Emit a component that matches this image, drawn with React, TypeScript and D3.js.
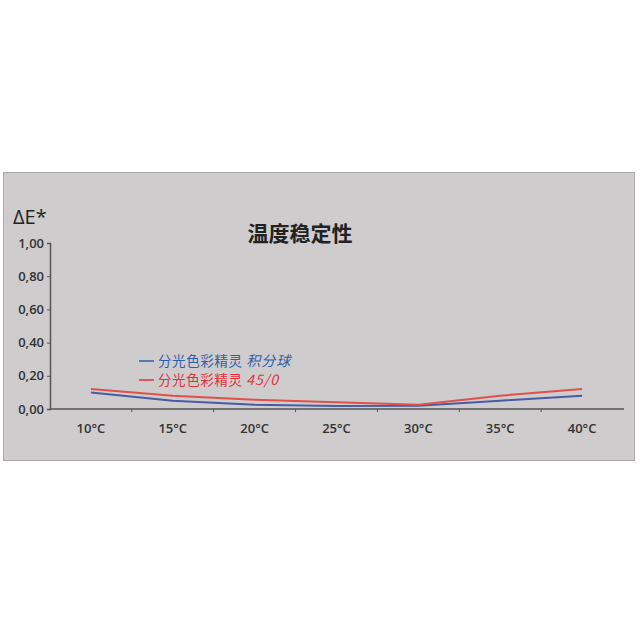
import { useEffect, useRef } from 'react';
import * as d3 from 'd3';

const temps = ['10°C', '15°C', '20°C', '25°C', '30°C', '35°C', '40°C'];
const sphereValues = [0.10, 0.05, 0.025, 0.018, 0.02, 0.05, 0.08];
const geo450Values = [0.12, 0.08, 0.055, 0.04, 0.025, 0.08, 0.12];
const yTicks = [0, 0.2, 0.4, 0.6, 0.8, 1.0];

const seriesNames = ['分光色彩精灵 ', '分光色彩精灵 '];
const seriesSuffix = ['积分球', '45/0'];
const seriesColors = ['#4a5ba6', '#e2504c'];
const textColors = ['#2f5ea8', '#e3303c'];

const App = () => {
    const chartRef = useRef<SVGSVGElement | null>(null);

    useEffect(() => {
        const svg = d3.select(chartRef.current);
        svg.selectAll('*').remove();

        const font = '"Open Sans", "Noto Sans CJK SC", sans-serif';

        // grey panel
        svg.append('rect')
            .attr('x', 3.5).attr('y', 172.5)
            .attr('width', 631).attr('height', 288)
            .attr('fill', '#cecccd')
            .attr('stroke', '#a9a9a9')
            .attr('stroke-width', 1);

        const xScale = d3.scaleBand<string>()
            .domain(temps)
            .range([50, 623])
            .padding(0);

        const yScale = d3.scaleLinear()
            .domain([0, 1])
            .range([409, 243]);

        // y axis
        const yAxis = d3.axisLeft(yScale)
            .tickValues(yTicks)
            .tickSize(3)
            .tickFormat(d => d3.format('.2f')(d as number).replace('.', ','));

        const gy = svg.append('g')
            .attr('transform', 'translate(50,0)')
            .call(yAxis);
        gy.select('.domain').attr('stroke', '#555').attr('stroke-width', 1.5);
        gy.selectAll('line').attr('stroke', '#555');
        gy.selectAll('text')
            .attr('x', -6)
            .style('font-size', '13px')
            .style('font-family', font)
            .style('font-weight', '600')
            .attr('fill', '#333');

        // x axis line with boundary ticks
        svg.append('line')
            .attr('x1', 50).attr('x2', 624)
            .attr('y1', yScale(0)).attr('y2', yScale(0))
            .attr('stroke', '#555').attr('stroke-width', 1.5);

        svg.append('g')
            .selectAll('line')
            .data(temps.slice(1))
            .join('line')
            .attr('x1', d => xScale(d) as number)
            .attr('x2', d => xScale(d) as number)
            .attr('y1', yScale(0))
            .attr('y2', yScale(0) + 3)
            .attr('stroke', '#555');

        svg.append('g')
            .selectAll('text')
            .data(temps)
            .join('text')
            .attr('x', d => (xScale(d) as number) + xScale.bandwidth() / 2)
            .attr('y', 433)
            .attr('text-anchor', 'middle')
            .style('font-size', '13px')
            .style('font-family', font)
            .style('font-weight', '600')
            .attr('fill', '#333')
            .text(d => d);

        // lines
        const line = d3.line<number>()
            .x((_, i) => (xScale(temps[i]) as number) + xScale.bandwidth() / 2)
            .y(d => yScale(d));

        [sphereValues, geo450Values].forEach((vals, i) => {
            svg.append('path')
                .datum(vals)
                .attr('fill', 'none')
                .attr('stroke', seriesColors[i])
                .attr('stroke-width', 2)
                .attr('d', line);
        });

        // title
        svg.append('text')
            .attr('x', 300).attr('y', 241)
            .attr('text-anchor', 'middle')
            .style('font-size', '21px')
            .style('font-weight', 'bold')
            .style('font-family', '"Noto Sans CJK SC", sans-serif')
            .attr('fill', '#222')
            .text('温度稳定性');

        // y label
        svg.append('text')
            .attr('x', 13).attr('y', 224)
            .style('font-size', '20px')
            .style('font-family', font)
            .attr('fill', '#222')
            .text('ΔE*');

        // legend
        seriesNames.forEach((name, i) => {
            const y = 361 + i * 19;
            svg.append('line')
                .attr('x1', 139).attr('x2', 154)
                .attr('y1', y).attr('y2', y)
                .attr('stroke', textColors[i])
                .attr('stroke-width', 1.5);
            const t = svg.append('text')
                .attr('x', 158).attr('y', y + 5)
                .style('font-size', '13.5px')
                .style('letter-spacing', '0.6px')
                .style('font-family', '"Noto Sans CJK SC", sans-serif')
                .attr('fill', textColors[i]);
            t.append('tspan').text(name);
            t.append('tspan')
                .style('font-style', 'italic')
                .style('font-size', '14px')
                .style('letter-spacing', '1px')
                .text(seriesSuffix[i]);
        });
    }, []);

    return (
        <svg ref={chartRef} width={640} height={640}
            style={{ position: 'absolute', left: 0, top: 0, background: '#fff' }} />
    );
};

export default App;
